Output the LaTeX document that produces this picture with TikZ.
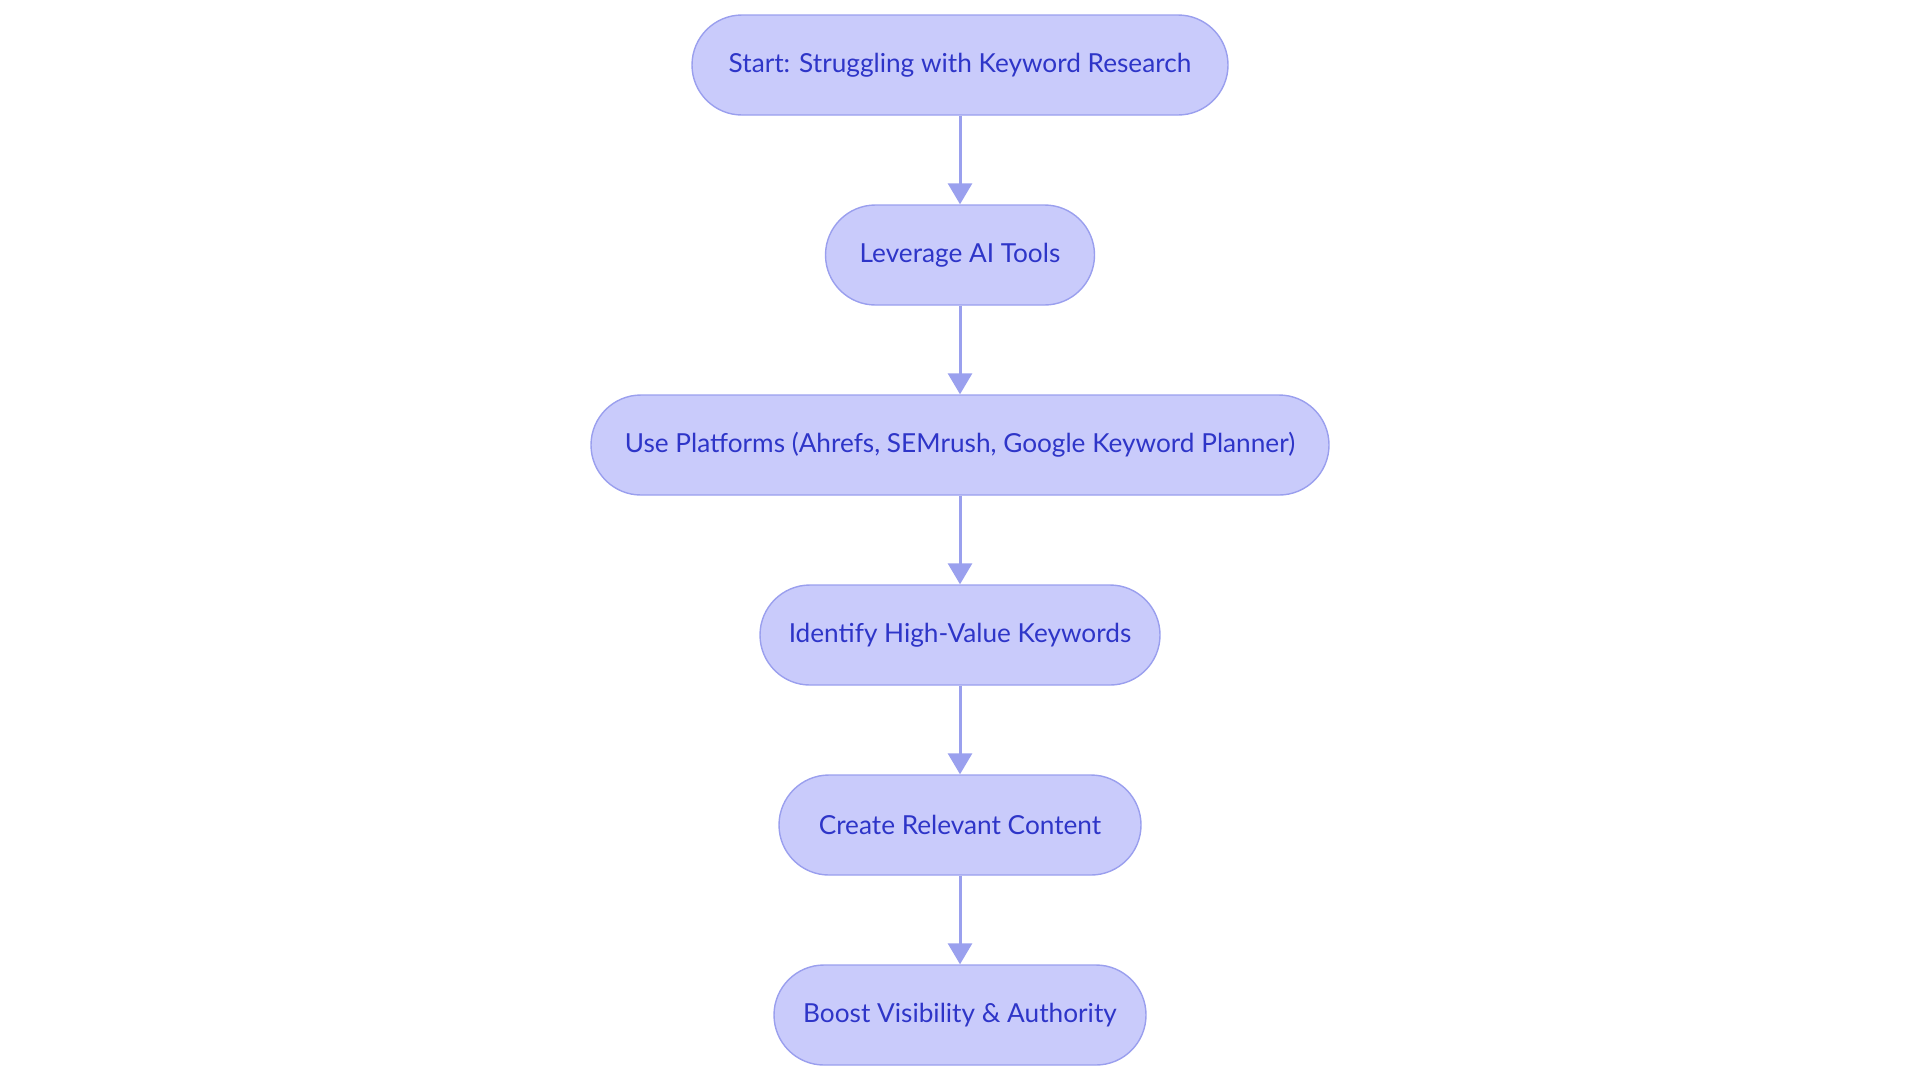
\documentclass[tikz,border=0pt]{standalone}
\usepackage{fontspec}
\setmainfont{Lato}
\usetikzlibrary{arrows.meta}
\definecolor{boxfill}{HTML}{C9CBFB}
\definecolor{boxline}{HTML}{9A9FEE}
\definecolor{txt}{HTML}{2E35C8}
\definecolor{arr}{HTML}{9AA0EE}
\tikzset{
  flowbox/.style={draw=boxline, fill=boxfill, line width=0.7pt, rounded corners=25pt,
    minimum height=50pt, inner sep=0pt, text=txt, font=\fontsize{13.1}{15}\selectfont},
  flowarrow/.style={draw=arr, line width=1.5pt, -{Triangle[length=10.5pt,width=12pt]}}
}
\begin{document}
\begin{tikzpicture}[x=1pt,y=1pt]
\useasboundingbox (0,0) rectangle (960,-541.5);
\node[flowbox, minimum width=268pt] (n1) at (480,-32.5) {Start: Struggling with Keyword Research};
\node[flowbox, minimum width=134.5pt] (n2) at (480,-127.5) {Leverage AI Tools};
\node[flowbox, minimum width=369pt] (n3) at (480,-222.5) {Use Platforms (Ahrefs, SEMrush, Google Keyword Planner)};
\node[flowbox, minimum width=200pt] (n4) at (480,-317.5) {Identify High-Value Keywords};
\node[flowbox, minimum width=181pt] (n5) at (480,-412.5) {Create Relevant Content};
\node[flowbox, minimum width=186pt] (n6) at (480,-507.5) {Boost Visibility \& Authority};
\draw[flowarrow] (n1) -- (n2);
\draw[flowarrow] (n2) -- (n3);
\draw[flowarrow] (n3) -- (n4);
\draw[flowarrow] (n4) -- (n5);
\draw[flowarrow] (n5) -- (n6);
\end{tikzpicture}
\end{document}
